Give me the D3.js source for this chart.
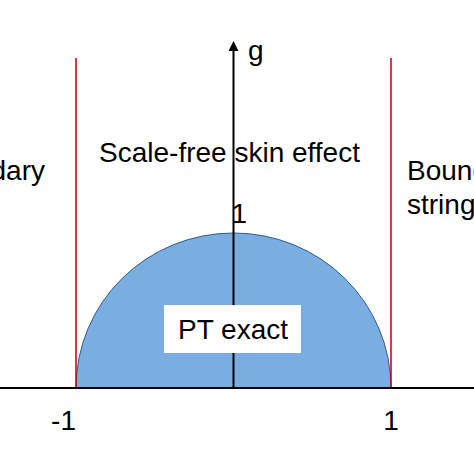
<!DOCTYPE html>
<html><head><meta charset="utf-8">
<script src="https://cdn.jsdelivr.net/npm/d3@7"></script>
<style>body{margin:0;background:#fff}</style>
</head><body><div id="chart"></div>
<script>
// data
const boundaries = [-1, 1];
const tickLabels = [{ x: -1, label: "-1" }, { x: 1, label: "1" }];
const domeHeight = 1;
const regionLabels = [
  { x: 0, text: "Scale-free skin effect" }
];

const width = 474, height = 474;

const x = d3.scaleLinear().domain([-1, 1]).range([76, 391]);
const y = d3.scaleLinear().domain([0, 1]).range([388, 233]);

const svg = d3.select("#chart").append("svg")
    .attr("width", width)
    .attr("height", height)
    .style("font-family", "Liberation Sans, Arial, sans-serif");

// dome
svg.append("ellipse")
    .attr("cx", x(0))
    .attr("cy", y(0))
    .attr("rx", x(1) - x(0))
    .attr("ry", y(0) - y(domeHeight))
    .attr("fill", "#7aaee3")
    .attr("stroke", "#2e5c8a")
    .attr("stroke-width", 1);
svg.append("rect").attr("x", 0).attr("y", y(0)).attr("width", width).attr("height", 100).attr("fill", "#fff");

// red boundaries
svg.selectAll("line.bound")
    .data(boundaries)
    .enter()
    .append("line")
    .attr("x1", d => x(d)).attr("x2", d => x(d))
    .attr("y1", 58).attr("y2", y(0))
    .attr("stroke", "#c00000")
    .attr("stroke-width", 1.5);

// horizontal axis
svg.append("line")
    .attr("x1", 0).attr("x2", width)
    .attr("y1", y(0)).attr("y2", y(0))
    .attr("stroke", "#000").attr("stroke-width", 2);

// vertical axis with arrow
svg.append("defs").append("marker")
    .attr("id", "arr").attr("viewBox", "0 0 10 10")
    .attr("refX", 5).attr("refY", 5)
    .attr("markerWidth", 5).attr("markerHeight", 5)
    .attr("orient", "auto")
    .append("path").attr("d", "M0,0L10,5L0,10z").attr("fill", "#000");
svg.append("line")
    .attr("x1", x(0)).attr("x2", x(0))
    .attr("y1", y(0)).attr("y2", 46)
    .attr("stroke", "#000").attr("stroke-width", 2)
    .attr("marker-end", "url(#arr)");

const fs = 28;
svg.append("text").attr("x", 248).attr("y", 60).attr("font-size", fs).text("g");
svg.append("text").attr("x", x(0) - 2).attr("y", y(domeHeight) - 10).attr("font-size", fs).text("1");

svg.selectAll("text.tick")
    .data(tickLabels)
    .enter()
    .append("text")
    .attr("x", d => x(d.x))
    .attr("y", 430)
    .attr("text-anchor", d => d.x < 0 ? "end" : "middle")
    .attr("dx", d => d.x < 0 ? 0 : 0)
    .attr("font-size", fs)
    .text(d => d.label);

svg.selectAll("text.region")
    .data(regionLabels)
    .enter()
    .append("text")
    .attr("x", d => x(d.x) - 4)
    .attr("y", 162)
    .attr("text-anchor", "middle")
    .attr("font-size", fs)
    .text(d => d.text);

svg.append("text").attr("x", 45).attr("y", 180).attr("text-anchor", "end").attr("font-size", fs).text("Boundary");
svg.append("text").attr("x", 407).attr("y", 180).attr("font-size", fs).text("Boundary");
svg.append("text").attr("x", 407).attr("y", 214).attr("font-size", fs).text("string");

// PT exact box
svg.append("rect").attr("x", 164).attr("y", 305).attr("width", 137).attr("height", 48).attr("fill", "#fff");
svg.append("text").attr("x", 233).attr("y", 339).attr("text-anchor", "middle").attr("font-size", fs).text("PT exact");
</script>
</body></html>
